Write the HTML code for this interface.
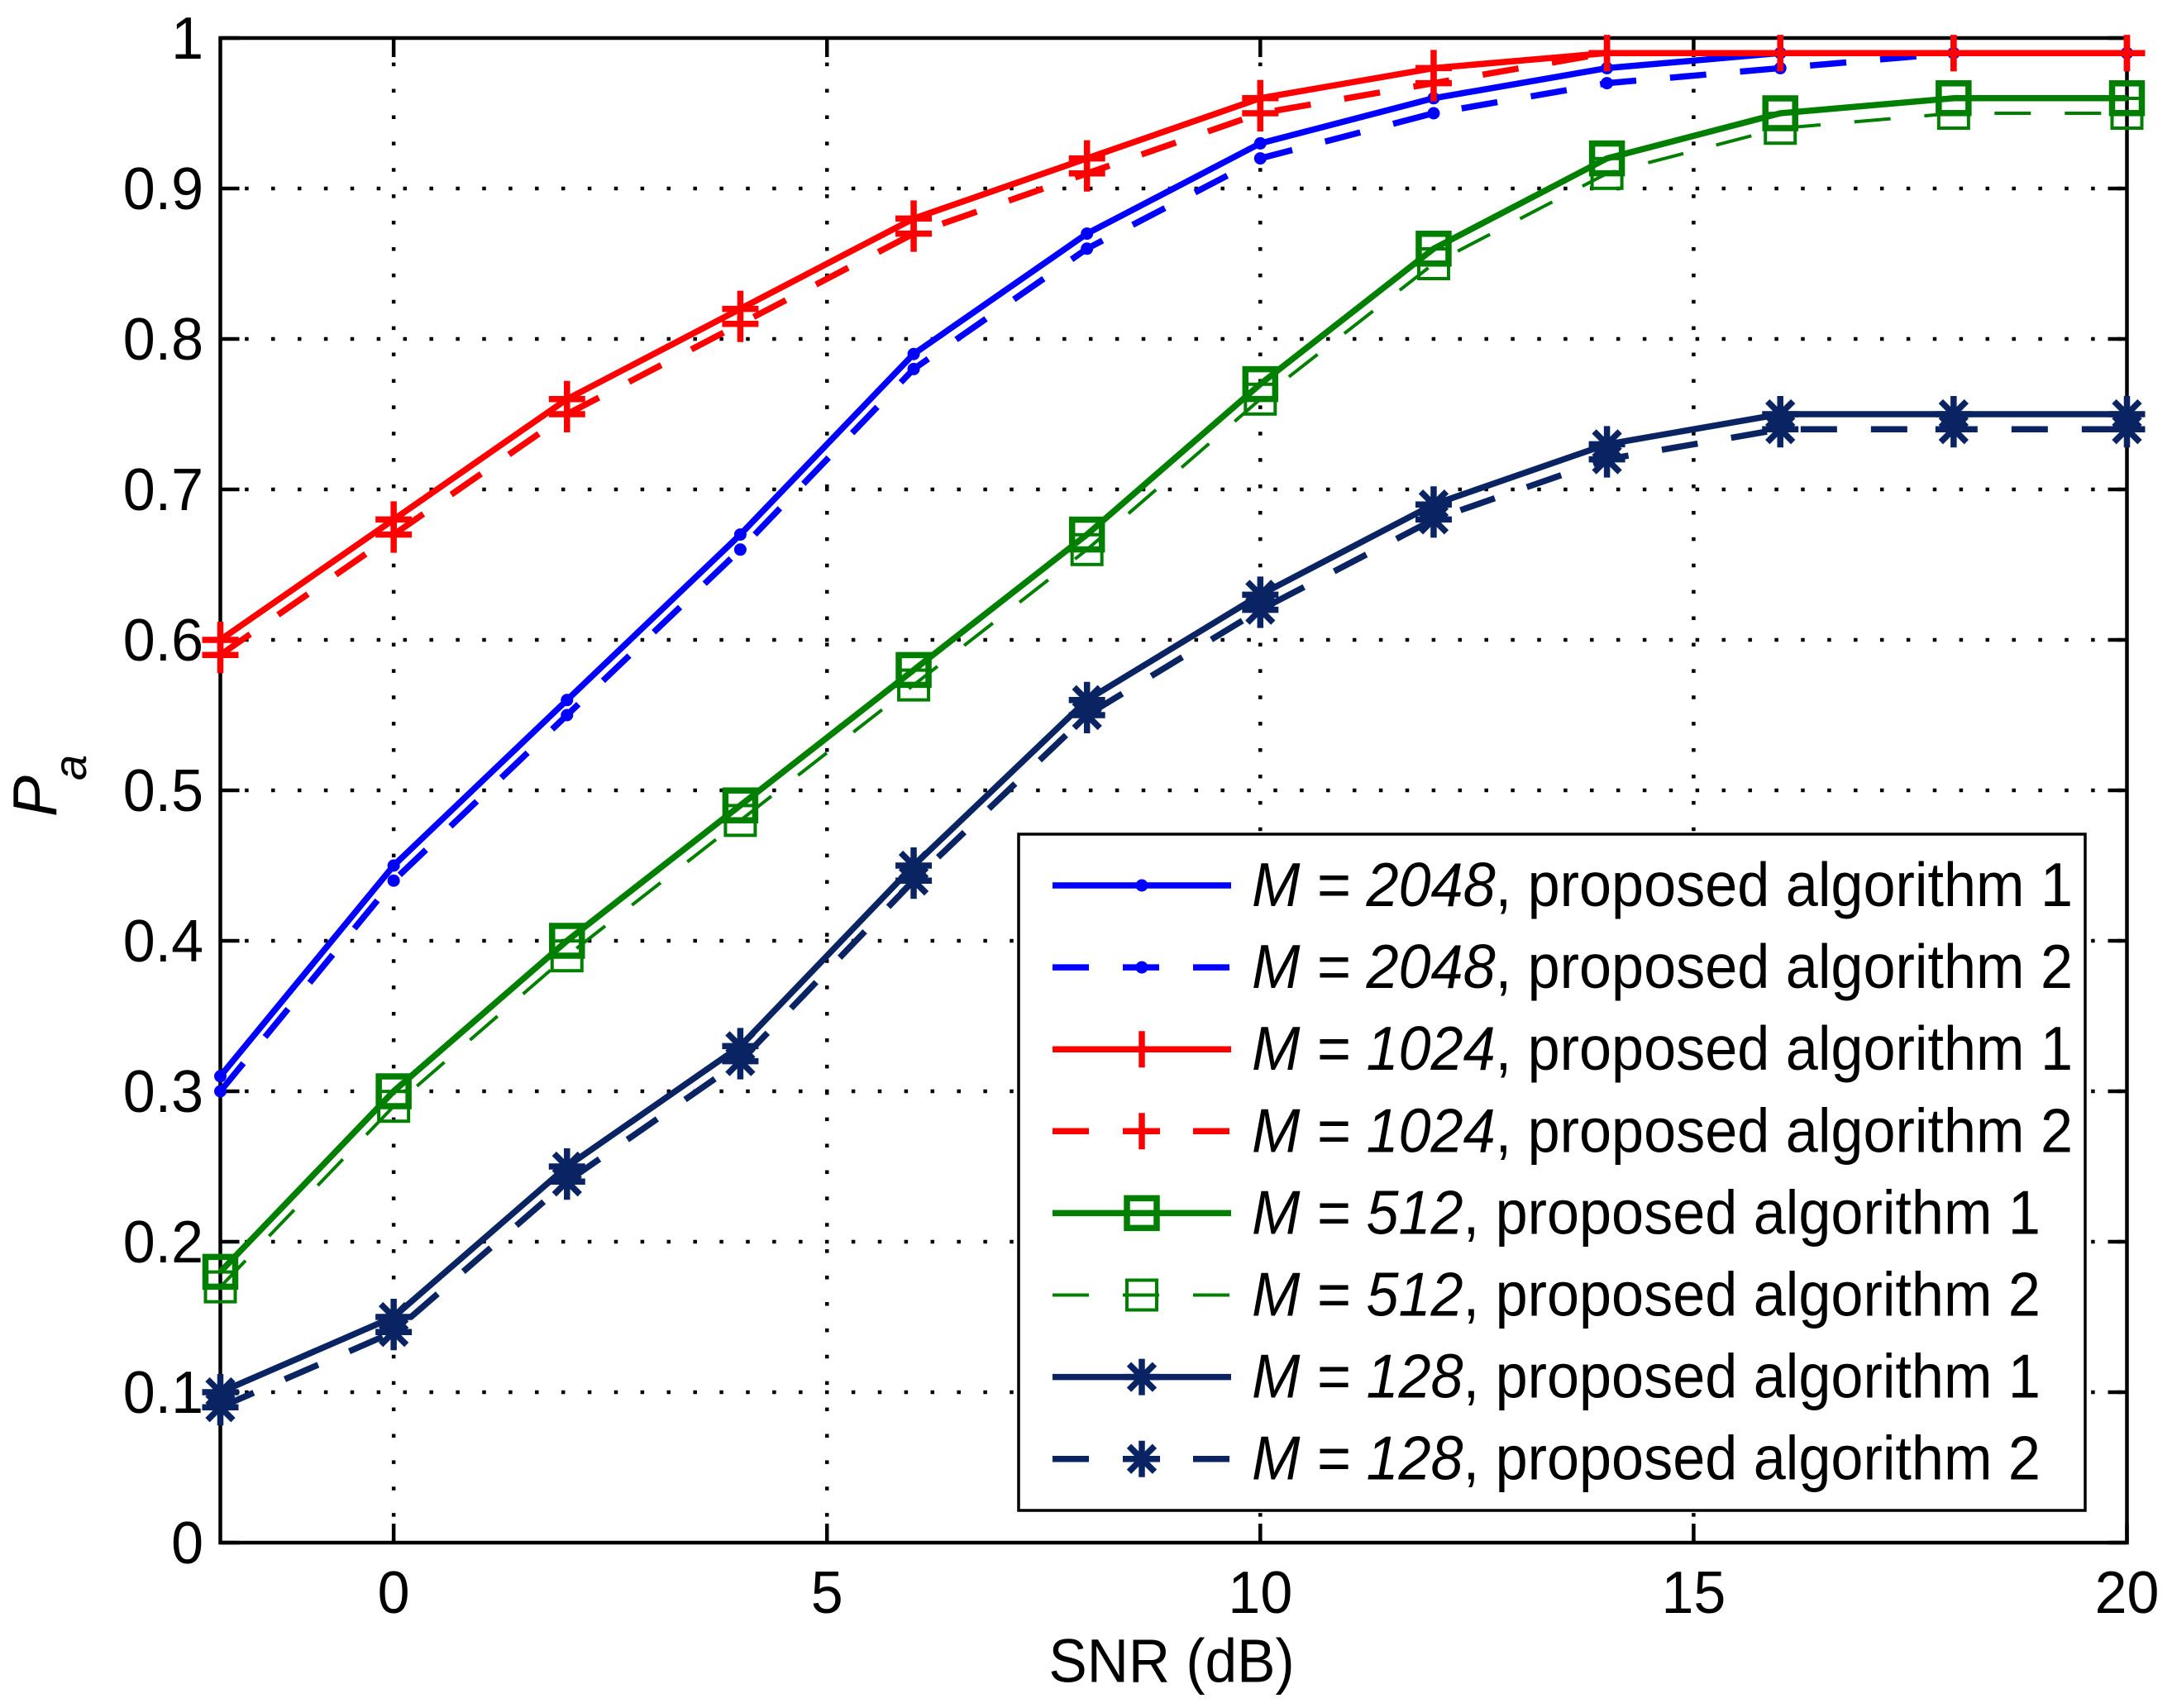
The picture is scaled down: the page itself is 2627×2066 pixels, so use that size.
<!DOCTYPE html>
<html>
<head>
<meta charset="utf-8">
<title>Pa vs SNR</title>
<style>
html,body{margin:0;padding:0;background:#fff;}
svg{display:block;}
text{font-family:"Liberation Sans",sans-serif;fill:#000;}
</style>
</head>
<body>
<svg id="chart" xmlns="http://www.w3.org/2000/svg" width="2627" height="2066" viewBox="0 0 2627 2066">
<rect x="0" y="0" width="2627" height="2066" fill="#fff"/>
</svg>
<script>
const snr = [-2, 0, 2, 4, 6, 8, 10, 12, 14, 16, 18, 20];
const m2048Alg1 = [0.31, 0.45, 0.56, 0.67, 0.79, 0.87, 0.93, 0.96, 0.98, 0.99, 0.99, 0.99];
const m2048Alg2 = [0.30, 0.44, 0.55, 0.66, 0.78, 0.86, 0.92, 0.95, 0.97, 0.98, 0.99, 0.99];
const m1024Alg1 = [0.60, 0.68, 0.76, 0.82, 0.88, 0.92, 0.96, 0.98, 0.99, 0.99, 0.99, 0.99];
const m1024Alg2 = [0.59, 0.67, 0.75, 0.81, 0.87, 0.91, 0.95, 0.97, 0.99, 0.99, 0.99, 0.99];
const m512Alg1 = [0.18, 0.30, 0.40, 0.49, 0.58, 0.67, 0.77, 0.86, 0.92, 0.95, 0.96, 0.96];
const m512Alg2 = [0.17, 0.29, 0.39, 0.48, 0.57, 0.66, 0.76, 0.85, 0.91, 0.94, 0.95, 0.95];
const m128Alg1 = [0.10, 0.15, 0.25, 0.33, 0.45, 0.56, 0.63, 0.69, 0.73, 0.75, 0.75, 0.75];
const m128Alg2 = [0.09, 0.14, 0.24, 0.32, 0.44, 0.55, 0.62, 0.68, 0.72, 0.74, 0.74, 0.74];
const xTickValues = [0, 5, 10, 15, 20];
const xTickLabels = ["0", "5", "10", "15", "20"];
const yTickValues = [0, 0.1, 0.2, 0.3, 0.4, 0.5, 0.6, 0.7, 0.8, 0.9, 1];
const yTickLabels = ["0", "0.1", "0.2", "0.3", "0.4", "0.5", "0.6", "0.7", "0.8", "0.9", "1"];
const seriesValues = [m2048Alg1, m2048Alg2, m1024Alg1, m1024Alg2, m512Alg1, m512Alg2, m128Alg1, m128Alg2];
const seriesNames = ["m2048-alg1", "m2048-alg2", "m1024-alg1", "m1024-alg2", "m512-alg1", "m512-alg2", "m128-alg1", "m128-alg2"];
const seriesM = ["2048", "2048", "1024", "1024", "512", "512", "128", "128"];
const seriesAlg = ["1", "2", "1", "2", "1", "2", "1", "2"];
const seriesColor = ["#0000ff", "#0000ff", "#ff0000", "#ff0000", "#007f00", "#007f00", "#0a2463", "#0a2463"];
const seriesMarker = ["dot", "dot", "plus", "plus", "square", "square", "star", "star"];
const seriesWidth = [7.5, 7.5, 7.5, 7.5, 7.5, 4, 7.5, 7.5];
const seriesDash = ["", "44 41", "", "44 41", "", "44 41", "", "44 41"];

const AX = {left: 266.5, right: 2572.5, top: 46, bottom: 1866};
const xMin = -2, xMax = 20, yMin = 0, yMax = 1;
function xScale(v) { return AX.left + (v - xMin) / (xMax - xMin) * (AX.right - AX.left); }
function yScale(v) { return AX.bottom - (v - yMin) / (yMax - yMin) * (AX.bottom - AX.top); }

const svg = document.getElementById('chart');
const NS = 'http://www.w3.org/2000/svg';
function mk(tag, attrs, parent) {
  const el = document.createElementNS(NS, tag);
  for (const k in attrs) el.setAttribute(k, attrs[k]);
  (parent || svg).appendChild(el);
  return el;
}

function drawMarker(kind, cx, cy, color, sw, parent) {
  const g = mk('g', {stroke: color, fill: 'none', 'stroke-width': sw}, parent);
  
  
  if (kind === 'dot') {
    mk('circle', {cx: cx, cy: cy, r: 7.5, fill: color, stroke: 'none'}, g);
  } else if (kind === 'plus') {
    g.setAttribute('stroke-width', 7.5);
    mk('path', {d: `M${cx - 22} ${cy}H${cx + 22}M${cx} ${cy - 22}V${cy + 22}`}, g);
  } else if (kind === 'square') {
    mk('rect', {x: cx - 18, y: cy - 18, width: 36, height: 36}, g);
  } else if (kind === 'star') {
    g.setAttribute('stroke-width', 7.5);
    const d = 15.5;
    mk('path', {d: `M${cx - 22} ${cy}H${cx + 22}M${cx} ${cy - 22}V${cy + 22}M${cx - d} ${cy - d}L${cx + d} ${cy + d}M${cx - d} ${cy + d}L${cx + d} ${cy - d}`}, g);
  }
}

// grid
const grid = mk('g', {stroke: '#000', 'stroke-width': 4.5, 'stroke-dasharray': '4.5 27.4', 'stroke-dashoffset': 2.25, fill: 'none'});


xTickValues.forEach(function (v) {
  if (v === xMax) return;
  const line = mk('line', {x1: xScale(v), x2: xScale(v), y1: AX.top, y2: AX.bottom}, grid);
  
  
});
yTickValues.forEach(function (v) {
  if (v === yMin || v === yMax) return;
  const line = mk('line', {x1: AX.left, x2: AX.right, y1: yScale(v), y2: yScale(v)}, grid);
  
  
});

// ticks
const ticks = mk('g', {stroke: '#000', 'stroke-width': 4.5, fill: 'none'});


xTickValues.forEach(function (v) {
  mk('path', {d: `M${xScale(v)} ${AX.bottom}v-23M${xScale(v)} ${AX.top}v23`}, ticks);
});
yTickValues.forEach(function (v) {
  mk('path', {d: `M${AX.left} ${yScale(v)}h23M${AX.right} ${yScale(v)}h-23`}, ticks);
});

// frame
const frame = mk('rect', {x: AX.left, y: AX.top, width: AX.right - AX.left, height: AX.bottom - AX.top, fill: 'none', stroke: '#000', 'stroke-width': 4.5});



// tick labels
xTickValues.forEach(function (v, i) {
  const t = mk('text', {transform: `translate(${xScale(v)} 1951) scale(1 1.03)`, 'font-size': 70, 'text-anchor': 'middle'});
  
  
  t.textContent = xTickLabels[i];
});
yTickValues.forEach(function (v, i) {
  const t = mk('text', {transform: `translate(246 ${yScale(v) + 25}) scale(1 1.03)`, 'font-size': 70, 'text-anchor': 'end'});
  
  
  t.textContent = yTickLabels[i];
});

// series
seriesValues.forEach(function (vals, s) {
  const g = mk('g', {});
  
  
  const pts = vals.map(function (v, i) { return xScale(snr[i]) + ',' + yScale(v); }).join(' ');
  const attrs = {points: pts, fill: 'none', stroke: seriesColor[s], 'stroke-width': seriesWidth[s], 'stroke-linejoin': 'round'};
  if (seriesDash[s]) attrs['stroke-dasharray'] = seriesDash[s];
  const line = mk('polyline', attrs, g);
  
  
  vals.forEach(function (v, i) {
    drawMarker(seriesMarker[s], xScale(snr[i]), yScale(v), seriesColor[s], seriesWidth[s], g);
  });
});

// legend
const legend = mk('g', {});


const legendBox = mk('rect', {x: 1232, y: 1009, width: 1290, height: 818, fill: '#fff', stroke: '#000', 'stroke-width': 3.5}, legend);


seriesNames.forEach(function (name, s) {
  const cy = 1071 + s * 99.1;
  const g = mk('g', {}, legend);
  
  
  const attrs = {x1: 1273, x2: 1489, y1: cy, y2: cy, stroke: seriesColor[s], 'stroke-width': seriesWidth[s]};
  if (seriesDash[s]) attrs['stroke-dasharray'] = seriesDash[s];
  mk('line', attrs, g);
  drawMarker(seriesMarker[s], 1381, cy, seriesColor[s], seriesWidth[s], g);
  const t = mk('text', {transform: `translate(1514 ${cy + 25}) scale(1 1.07)`, 'font-size': 70.2}, g);
  
  
  const it = mk('tspan', {'font-style': 'italic'}, t);
  it.textContent = 'M = ' + seriesM[s];
  const rest = mk('tspan', {}, t);
  rest.textContent = ', proposed algorithm ' + seriesAlg[s];
});

// axis titles
const xTitle = mk('text', {transform: 'translate(1417 2034.5) scale(1 1.07)', 'font-size': 69.5, 'text-anchor': 'middle'});


xTitle.textContent = 'SNR (dB)';
const yTitle = mk('text', {transform: 'translate(68 988) rotate(-90)', 'font-size': 75, 'font-style': 'italic'});


yTitle.textContent = 'P';
const yTitleSub = mk('text', {transform: 'translate(104 944) rotate(-90)', 'font-size': 56, 'font-style': 'italic'});


yTitleSub.textContent = 'a';
</script>
</body>
</html>
